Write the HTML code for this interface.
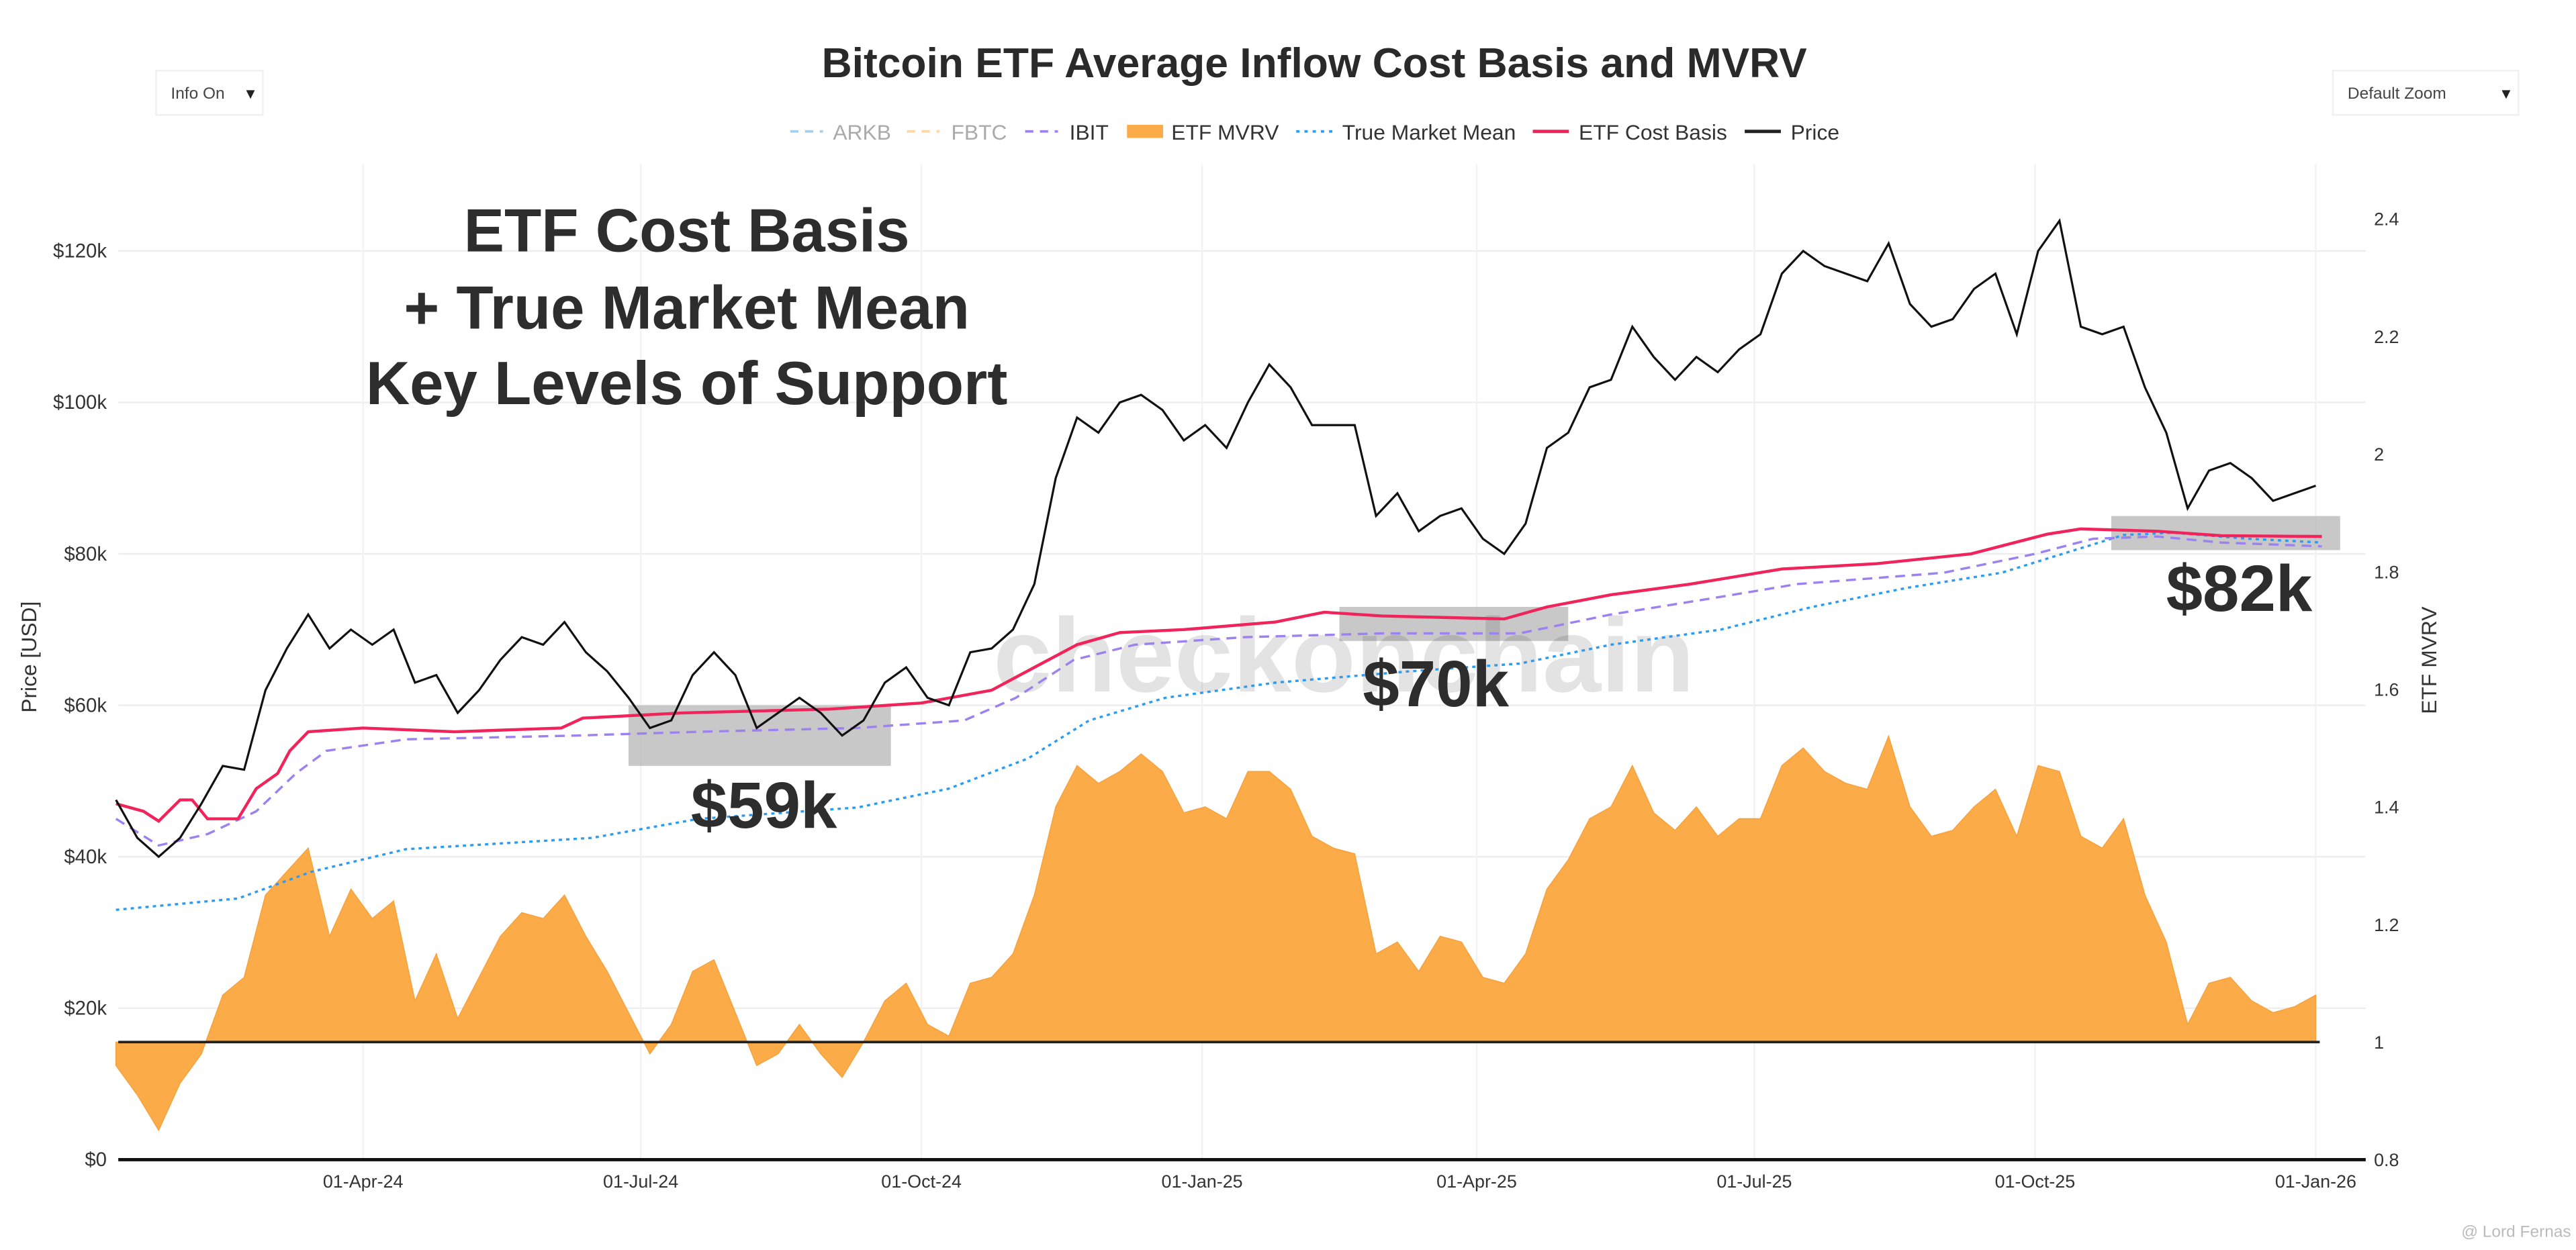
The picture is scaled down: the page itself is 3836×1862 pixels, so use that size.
<!DOCTYPE html>
<html><head><meta charset="utf-8"><style>
html,body{margin:0;padding:0;background:#fff;}
svg{display:block;font-family:"Liberation Sans",sans-serif;}
</style></head><body>
<svg id="chart" width="3836" height="1862" viewBox="0 0 1568 761" preserveAspectRatio="none" xmlns="http://www.w3.org/2000/svg">
<rect width="1568" height="761" fill="#fff"/>
<text x="800" y="47" text-anchor="middle" font-size="25.5" font-weight="bold" fill="#2a2a2a">Bitcoin ETF Average Inflow Cost Basis and MVRV</text>
<g><rect x="95" y="43" width="65" height="27" fill="#fff" stroke="#f0f0f0"/><text x="104" y="60" font-size="10" fill="#444">Info On</text><text x="148" y="60" font-size="9" fill="#222">▼</text></g>
<g><rect x="1420" y="43" width="113" height="27" fill="#fff" stroke="#f0f0f0"/><text x="1429" y="60" font-size="10" fill="#444">Default Zoom</text><text x="1521" y="60" font-size="9" fill="#222">▼</text></g>
<g id="legend" font-size="13">
<g><line x1="481" y1="80" x2="501" y2="80" stroke="#a8cdea" stroke-width="1.5" stroke-dasharray="5,4"/><text x="507" y="85" fill="#aaa">ARKB</text></g>
<g><line x1="552" y1="80" x2="572" y2="80" stroke="#f9d9a8" stroke-width="1.5" stroke-dasharray="5,4"/><text x="579" y="85" fill="#aaa">FBTC</text></g>
<g><line x1="624" y1="80" x2="644" y2="80" stroke="#9c82f0" stroke-width="1.5" stroke-dasharray="5,4"/><text x="651" y="85" fill="#333">IBIT</text></g>
<g><rect x="686" y="76" width="22" height="8" fill="#fbab48"/><text x="713" y="85" fill="#333">ETF MVRV</text></g>
<g><line x1="789" y1="80" x2="811" y2="80" stroke="#2c9cf0" stroke-width="1.5" stroke-dasharray="2,3"/><text x="817" y="85" fill="#333">True Market Mean</text></g>
<g><line x1="933" y1="80" x2="955" y2="80" stroke="#f0245a" stroke-width="2"/><text x="961" y="85" fill="#333">ETF Cost Basis</text></g>
<g><line x1="1062" y1="80" x2="1084" y2="80" stroke="#222" stroke-width="2"/><text x="1090" y="85" fill="#333">Price</text></g>
</g>
<g id="grid"></g>
<g id="annot-boxes"></g>
<text x="818" y="421" text-anchor="middle" font-size="64" font-weight="bold" fill="rgba(0,0,0,0.11)">checkonchain</text>
<g id="series"></g>
<g id="axes"></g>
<g font-size="37" font-weight="bold" fill="#2d2d2d" text-anchor="middle">
<text x="418" y="153">ETF Cost Basis</text>
<text x="418" y="200">+ True Market Mean</text>
<text x="418" y="246">Key Levels of Support</text>
</g>
<text x="465" y="504" text-anchor="middle" font-size="40" font-weight="bold" fill="#2d2d2d">$59k</text>
<text x="874" y="430" text-anchor="middle" font-size="40" font-weight="bold" fill="#2d2d2d">$70k</text>
<text x="1363" y="372" text-anchor="middle" font-size="40" font-weight="bold" fill="#2d2d2d">$82k</text>
<text transform="translate(22,400) rotate(-90)" text-anchor="middle" font-size="13" fill="#333">Price [USD]</text>
<text transform="translate(1483,402) rotate(-90)" text-anchor="middle" font-size="13" fill="#333">ETF MVRV</text>
<text x="1565" y="753" text-anchor="end" font-size="10" fill="#bbb">@ Lord Fernas</text>
</svg>
<script>
const startDate = "2024-01-11";
const priceK = [47.5,42.5,40,42.5,47,52,51.5,62,67.5,72,67.5,70,68,70,63,64,59,62,66,69,68,71,67,64.5,61,57,58,64,67,64,57,59,61,59,56,58,63,65,61,60,67,67.5,70,76,90,98,96,100,101,99,95,97,94,100,105,102,97,97,97,85,88,83,85,86,82,80,84,94,96,102,103,110,106,103,106,104,107,109,117,120,118,117,116,121,113,110,111,115,117,109,120,124,110,109,110,102,96,86,91,92,90,87,88,89];
const mvrv = [.96,.91,.85,.93,.98,1.08,1.11,1.25,1.29,1.33,1.18,1.26,1.21,1.24,1.07,1.15,1.04,1.11,1.18,1.22,1.21,1.25,1.18,1.12,1.05,.98,1.03,1.12,1.14,1.05,.96,.98,1.03,.98,.94,1.0,1.07,1.10,1.03,1.01,1.10,1.11,1.15,1.25,1.40,1.47,1.44,1.46,1.49,1.46,1.39,1.40,1.38,1.46,1.46,1.43,1.35,1.33,1.32,1.15,1.17,1.12,1.18,1.17,1.11,1.10,1.15,1.26,1.31,1.38,1.40,1.47,1.39,1.36,1.40,1.35,1.38,1.38,1.47,1.50,1.46,1.44,1.43,1.52,1.40,1.35,1.36,1.40,1.43,1.35,1.47,1.46,1.35,1.33,1.38,1.25,1.17,1.03,1.10,1.11,1.07,1.05,1.06,1.08];
const cbDates = ["2024-01-11","2024-01-20","2024-01-25","2024-02-01","2024-02-05","2024-02-10","2024-02-20","2024-02-26","2024-03-04","2024-03-08","2024-03-14","2024-04-01","2024-05-01","2024-06-05","2024-06-12","2024-07-15","2024-09-01","2024-10-01","2024-10-24","2024-11-07","2024-11-21","2024-12-05","2024-12-26","2025-01-25","2025-02-10","2025-03-01","2025-04-10","2025-04-24","2025-05-15","2025-06-10","2025-07-10","2025-08-10","2025-09-10","2025-10-05","2025-10-16","2025-11-10","2025-12-01","2026-01-03"];
const cbVals = [47,46,44.7,47.5,47.5,45,45,49,51,54,56.5,57,56.5,57,58.3,59,59.5,60.3,62,65,68,69.6,70,71,72.3,71.8,71.4,73,74.6,76,78,78.7,80,82.6,83.3,83,82.4,82.3];
const ibitDates = ["2024-01-11","2024-01-25","2024-02-10","2024-02-26","2024-03-10","2024-03-20","2024-04-15","2024-06-10","2024-07-20","2024-09-10","2024-10-15","2024-11-01","2024-11-20","2024-12-10","2025-01-15","2025-03-01","2025-04-15","2025-05-15","2025-06-15","2025-07-15","2025-09-01","2025-10-01","2025-10-20","2025-11-10","2025-12-01","2026-01-03"];
const ibitVals = [45,41.5,43,46,51,54,55.5,56,56.5,57,58,61,66,68,69,69.5,69.5,72,74,76,77.5,80,82,82.3,81.5,81];
const tmmDates = ["2024-01-11","2024-02-20","2024-03-15","2024-04-15","2024-06-15","2024-07-20","2024-09-10","2024-10-10","2024-11-05","2024-11-25","2024-12-20","2025-01-25","2025-03-10","2025-04-15","2025-05-15","2025-06-20","2025-07-20","2025-08-20","2025-09-20","2025-10-10","2025-10-30","2025-11-15","2025-12-10","2026-01-03"];
const tmmVals = [33,34.5,38,41,42.5,45,46.5,49,53,58,61,63,64.5,65.5,68,70,73,75.5,77.5,80,82.5,82.8,82,81.5];
const priceTicks = [0,20,40,60,80,100,120];
const priceTickLabels = ["$0","$20k","$40k","$60k","$80k","$100k","$120k"];
const mvrvTicks = [0.8,1,1.2,1.4,1.6,1.8,2,2.2,2.4];
const mvrvTickLabels = ["0.8","1","1.2","1.4","1.6","1.8","2","2.2","2.4"];
const xTickDates = ["2024-04-01","2024-07-01","2024-10-01","2025-01-01","2025-04-01","2025-07-01","2025-10-01","2026-01-01"];
const xTickLabels = ["01-Apr-24","01-Jul-24","01-Oct-24","01-Jan-25","01-Apr-25","01-Jul-25","01-Oct-25","01-Jan-26"];
const supportLevels = [{from:"2024-06-27",to:"2024-09-21",lo:52,hi:60},{from:"2025-02-15",to:"2025-05-01",lo:68.5,hi:73},{from:"2025-10-26",to:"2026-01-09",lo:80.5,hi:85}];

const NS="http://www.w3.org/2000/svg";
const DAY=86400000, t0=Date.parse("2024-04-01");
function x(d){const t=typeof d==="string"?Date.parse(d):d;return 221+(t-t0)/DAY*(169/91);}
function yP(k){return 706-k/20*92.2;}
function yM(v){return 706-(v-0.8)/0.2*71.6;}
function weekDate(i){return Date.parse(startDate)+i*7*DAY;}
function mk(tag,attrs,parent){const e=document.createElementNS(NS,tag);for(const k in attrs)e.setAttribute(k,attrs[k]);parent.appendChild(e);return e;}

const grid=document.getElementById('grid'), axes=document.getElementById('axes'), ser=document.getElementById('series'), boxes=document.getElementById('annot-boxes');
priceTicks.forEach((v,i)=>{
  if(v>0){const g=mk('line',{x1:72,x2:1440,y1:yP(v),y2:yP(v),stroke:'#eeeeee','stroke-width':1},grid);
  
  }
  const t=mk('text',{x:65,y:yP(v)+4,'text-anchor':'end','font-size':12,fill:'#333'},axes);t.textContent=priceTickLabels[i];
  
  
});
mvrvTicks.forEach((v,i)=>{
  const t=mk('text',{x:1445,y:yM(v)+4,'font-size':11,fill:'#333'},axes);t.textContent=mvrvTickLabels[i];
  
  
});
xTickDates.forEach((d,i)=>{
  const g=mk('line',{x1:x(d),x2:x(d),y1:100,y2:706,stroke:'#f2f2f2','stroke-width':1},grid);
  
  
  const t=mk('text',{x:x(d),y:723,'text-anchor':'middle','font-size':11,fill:'#333'},axes);t.textContent=xTickLabels[i];
  
  
});
const xa=mk('line',{x1:72,x2:1440,y1:706,y2:706,stroke:'#111','stroke-width':2},axes);


supportLevels.forEach(s=>{
  const r=mk('rect',{x:x(s.from),y:yP(s.hi),width:x(s.to)-x(s.from),height:yP(s.lo)-yP(s.hi),fill:'#b5b5b5','fill-opacity':0.75},boxes);
  
  
});
let d='M'+x(weekDate(0))+','+yM(1);
mvrv.forEach((v,i)=>{d+=' L'+x(weekDate(i)).toFixed(1)+','+yM(v).toFixed(1);});
d+=' L'+x(weekDate(mvrv.length-1))+','+yM(1)+' Z';
const area=mk('path',{d:d,fill:'#fbab48',stroke:'#f6a23c','stroke-width':0.6},ser);


const base=mk('line',{x1:72,x2:1412,y1:yM(1),y2:yM(1),stroke:'#222','stroke-width':1.5},ser);


function line(dates,vals,attrs){let p='';vals.forEach((v,i)=>{p+=(i?' L':'M')+x(dates[i]).toFixed(1)+','+yP(v).toFixed(1);});attrs.d=p;attrs.fill='none';return mk('path',attrs,ser);}
const tmm=line(tmmDates,tmmVals,{stroke:'#2c9cf0','stroke-width':1.4,'stroke-dasharray':'2,2.5'});


const ib=line(ibitDates,ibitVals,{stroke:'#9c82f0','stroke-width':1.4,'stroke-dasharray':'6,4'});


const cb=line(cbDates,cbVals,{stroke:'#f0245a','stroke-width':1.8});


const pd=priceK.map((v,i)=>weekDate(i));
const pr=line(pd,priceK,{stroke:'#111','stroke-width':1.3});


</script>
</body></html>
